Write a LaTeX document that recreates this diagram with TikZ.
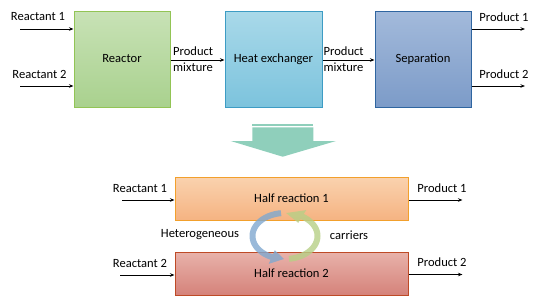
\documentclass[tikz,border=0pt]{standalone}
\usepackage{fontspec}
\setmainfont{Carlito}
\usetikzlibrary{arrows.meta}
\definecolor{gtop}{HTML}{C8E2B6}\definecolor{gbot}{HTML}{A9D18E}\definecolor{gbrd}{HTML}{92C455}
\definecolor{btop}{HTML}{A9D9E9}\definecolor{bbot}{HTML}{7CC3DD}\definecolor{bbrd}{HTML}{3D9CC4}
\definecolor{stop}{HTML}{A3BADB}\definecolor{sbot}{HTML}{7C9BC8}\definecolor{sbrd}{HTML}{2F65A0}
\definecolor{otop}{HTML}{FAD2AE}\definecolor{obot}{HTML}{F5B382}\definecolor{obrd}{HTML}{F2A02C}
\definecolor{rtop}{HTML}{E8B2AA}\definecolor{rbot}{HTML}{D5827A}\definecolor{rbrd}{HTML}{BE4A26}
\definecolor{bigarrow}{HTML}{8FCFBB}
\definecolor{cycblue}{HTML}{7FA8CF}\definecolor{cycgreen}{HTML}{B7CF86}
\tikzset{
  txt/.style={font=\fontsize{12.6}{14}\selectfont, inner sep=0pt},
  unit/.style={draw=#1brd, line width=1pt, top color=#1top, bottom color=#1bot, font=\fontsize{12.6}{14}\selectfont},
  flow/.style={-{Stealth[length=4.5pt,width=3.5pt]}, line width=0.8pt}
}
\begin{document}
\begin{tikzpicture}[x=1bp,y=-1bp]
\useasboundingbox (0,0) rectangle (544,302);
% top process
\node[unit=g, minimum width=96bp, minimum height=96bp] (reac) at (122,59) {Reactor};
\node[unit=b, minimum width=97bp, minimum height=96bp] (hx) at (273.5,59) {Heat exchanger};
\node[unit=s, minimum width=96bp, minimum height=96bp] (sep) at (423,59) {Separation};
\coordinate (r1) at (20,29); \coordinate (r2) at (20,86);
\coordinate (p1) at (525,29); \coordinate (p2) at (525,86);
\draw[flow] (r1) -- (r1 -| reac.west);
\draw[flow] (r2) -- (r2 -| reac.west);
\draw[flow] (reac.east |- 0,60) -- (hx.west |- 0,60);
\draw[flow] (hx.east |- 0,60) -- (sep.west |- 0,60);
\draw[flow] (sep.east |- p1) -- (p1);
\draw[flow] (sep.east |- p2) -- (p2);
\node[txt] (tr1) at (38,17) {Reactant 1};
\node[txt] (tr2) at (39.5,74) {Reactant 2};
\node[txt, anchor=west] (pm1a) at (173,51) {Product};
\node[txt, anchor=west] (pm1b) at (173,67) {mixture};
\node[txt, anchor=west] (pm2a) at (323.5,51) {Product};
\node[txt, anchor=west] (pm2b) at (323.5,67) {mixture};
\node[txt] (tp1) at (504,17) {Product 1};
\node[txt] (tp2) at (504,74) {Product 2};
% big arrow
\fill[bigarrow] (252.3,127.3) -- (313.3,127.3) -- (313.3,141) -- (336,141) -- (282.7,156.7) -- (230.7,141) -- (252.3,141) -- cycle;
\fill[bigarrow] (252.3,123.6) rectangle (313.3,124.6);
\fill[bigarrow] (252.3,125.4) rectangle (313.3,126.4);
% bottom
\node[unit=o, minimum width=233bp, minimum height=43bp] (h1) at (291.5,198.6) {Half reaction 1};
\node[unit=r, minimum width=233bp, minimum height=43bp] (h2) at (291.5,273.6) {Half reaction 2};
\coordinate (b1) at (122,200); \coordinate (b2) at (120,275);
\coordinate (q1) at (462.5,200); \coordinate (q2) at (462.5,274.5);
\draw[flow] (b1) -- (b1 -| h1.west);
\draw[flow] (b2) -- (b2 -| h2.west);
\draw[flow] (h1.east |- q1) -- (q1);
\draw[flow] (h2.east |- q2) -- (q2);
\node[txt] (br1) at (140,188) {Reactant 1};
\node[txt] (br2) at (140,263) {Reactant 2};
\node[txt] (bp1) at (442,188) {Product 1};
\node[txt] (bp2) at (442,262) {Product 2};
\node[txt] (het) at (200,235) {Heterogeneous};
\node[txt] (car) at (349,235) {carriers};
% cycle arrows
\def\cx{285}\def\cy{236}
\fill[cycblue, opacity=0.8] plot[domain=97:246,samples=40] ({\cx+35.5*cos(\x)},{\cy-26*sin(\x)})
  -- ({\cx+40*cos(246)},{\cy-30.5*sin(246)})
  -- ({\cx+32.5*cos(268)},{\cy-23*sin(268)})
  -- ({\cx+25*cos(246)},{\cy-15.5*sin(246)})
  -- plot[domain=246:97,samples=40] ({\cx+29.5*cos(\x)},{\cy-20*sin(\x)}) -- cycle;
\fill[cycgreen, opacity=0.8] plot[domain=-83:58,samples=40] ({\cx+35.5*cos(\x)},{\cy-26*sin(\x)})
  -- ({\cx+40*cos(58)},{\cy-30.5*sin(58)})
  -- ({\cx+32.5*cos(88)},{\cy-23*sin(88)})
  -- ({\cx+25*cos(58)},{\cy-15.5*sin(58)})
  -- plot[domain=58:-83,samples=40] ({\cx+29.5*cos(\x)},{\cy-20*sin(\x)}) -- cycle;
\end{tikzpicture}
\end{document}
